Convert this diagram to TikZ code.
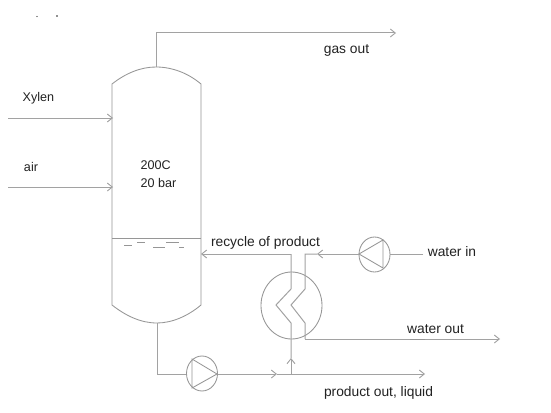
\documentclass[tikz,border=0pt]{standalone}
\usepackage{fontspec}
\setmainfont{Liberation Sans}
\usetikzlibrary{arrows.meta,shapes.geometric}
\definecolor{pipe}{HTML}{A2A2A2}
\definecolor{thin}{HTML}{969696}
\definecolor{ink}{HTML}{222222}
\tikzset{
  pipeline/.style={draw=pipe,line width=1pt},
  flow/.style={pipeline,-{Straight Barb[length=5pt,width=8pt,line width=0.9pt]}},
  outline/.style={draw=thin,line width=0.85pt},
  pumpbody/.style={ellipse,draw=thin,line width=0.85pt,minimum width=31pt,minimum height=35pt,inner sep=0pt},
  hxbody/.style={ellipse,draw=thin,line width=0.85pt,minimum width=61pt,minimum height=67pt,inner sep=0pt},
  label/.style={text=ink,font=\fontsize{13.8}{16}\selectfont,inner sep=0pt},
  labelsm/.style={text=ink,font=\fontsize{12.6}{18}\selectfont,inner sep=0pt}
}
\begin{document}
\begin{tikzpicture}[x=1pt,y=-1pt]
\useasboundingbox (0,0) rectangle (551,412);
\fill[white] (0,0) rectangle (551,412);
% vessel
\draw[outline] (112,305) -- (112,84) .. controls (126,73) and (141,67) .. (156,67)
  .. controls (172,67) and (188,73) .. (201,84) -- (201,305)
  .. controls (188,316) and (172,323) .. (157,323)
  .. controls (141,323) and (126,316) .. (112,305);
\coordinate (top) at (156,67);
\coordinate (bot) at (157,323);
\draw[outline] (112,238) -- (201,238);
\foreach \a/\b/\c in {124/132/245,137/145/242,153/165/247,166/179/242,179/184/247}
  \draw[draw=thin,line width=0.7pt] (\a,\c) -- (\b,\c);
% feeds
\coordinate (xin) at (8,118);
\coordinate (xend) at (113,118);
\coordinate (ain) at (8,187);
\coordinate (aend) at (113,187);
\draw[flow] (xin) -- (xend);
\draw[flow] (ain) -- (aend);
% gas
\coordinate (gcorner) at (156,33);
\coordinate (gend) at (396,33);
\draw[flow] (top) -- (gcorner) -- (gend);
% product pump
\node[pumpbody] (p1) at (202,373.5) {};
\draw[outline] (192,359) -- (217,374) -- (192,388) -- cycle;
\coordinate (pcorner) at (157,374);
\draw[pipeline] (bot) -- (pcorner) -- (p1.west |- pcorner);
\coordinate (pa) at (277,374);
\coordinate (junc) at (291,374);
\coordinate (pend) at (425,374);
\draw[flow] (p1.east |- pa) -- (pa);
\draw[pipeline] (pa) -- (junc);
\draw[flow] (junc) -- (pend);
% heat exchanger
\node[hxbody] (hx) at (291.5,305.5) {};
\coordinate (rb) at (291,358);
\coordinate (rc) at (291,323);
\coordinate (rd) at (276,305);
\coordinate (re) at (291,289);
\coordinate (rf) at (291,254);
\coordinate (rend) at (201,254);
\draw[flow] (junc) -- (rb);
\draw[pipeline] (rb) -- (rc) -- (rd) -- (re) -- (rf);
\draw[flow] (rf) -- (rend);
% water
\node[pumpbody] (p2) at (374.5,254.5) {};
\draw[outline] (359,254) -- (383,240) -- (383,268) -- cycle;
\coordinate (win) at (423,254);
\coordinate (wa) at (317,254);
\coordinate (wb) at (305,254);
\coordinate (wc) at (305,289);
\coordinate (wd) at (291,305);
\coordinate (we) at (305,323);
\coordinate (wf) at (305,339);
\coordinate (wend) at (500,339);
\draw[pipeline] (win) -- (p2.east |- win);
\draw[flow] (p2.west |- wa) -- (wa);
\draw[pipeline] (wa) -- (wb) -- (wc) -- (wd) -- (we) -- (wf);
\draw[flow] (wf) -- (wend);
\draw[draw=thin,line width=1pt] (410,339) -- (425,339);
% specks
\fill[ink] (37,16.5) circle (0.6);
\fill[ink] (57,16) circle (0.8);
% labels
\node[labelsm] (t1) at (38.5,98.5) {Xylen};
\node[labelsm] (t2) at (31,167) {air};
\node[labelsm,align=left] (t3) at (158.5,174) {200C\\20 bar};
\node[label] (t4) at (346.5,50) {gas out};
\node[label] (t5) at (265.5,242.5) {recycle of product};
\node[label] (t6) at (452,252) {water in};
\node[label] (t7) at (435.5,329) {water out};
\node[label] (t8) at (378.5,392.5) {product out, liquid};
\end{tikzpicture}
\end{document}
